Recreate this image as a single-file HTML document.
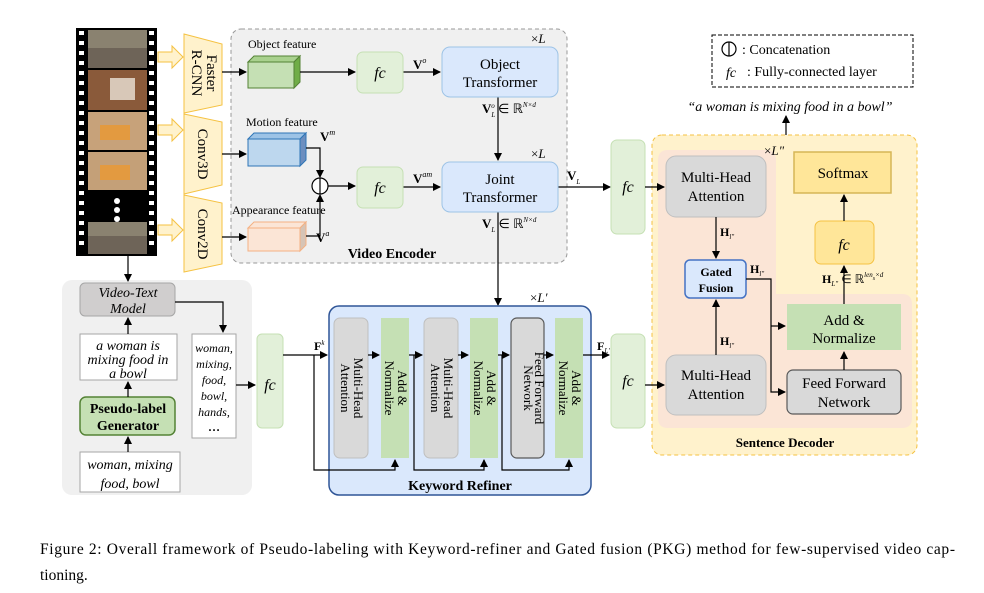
<!DOCTYPE html>
<html><head><meta charset="utf-8"><style>
html,body{margin:0;padding:0;background:#fff;}
svg{display:block;font-family:"Liberation Serif",serif;}
</style></head><body>
<svg width="984" height="593" viewBox="0 0 984 593" xmlns="http://www.w3.org/2000/svg">
<defs>
<marker id="a" markerWidth="8" markerHeight="8" refX="7" refY="4" orient="auto" markerUnits="userSpaceOnUse"><path d="M0,0 L8,4 L0,8 z" fill="#000"/></marker>
</defs>
<!-- film strip -->
<rect x="76" y="28" width="81" height="228" fill="#000"/>
<g fill="#fff">
<rect x="79" y="31" width="5" height="4"/><rect x="79" y="41" width="5" height="4"/><rect x="79" y="51" width="5" height="4"/><rect x="79" y="61" width="5" height="4"/><rect x="79" y="71" width="5" height="4"/><rect x="79" y="81" width="5" height="4"/><rect x="79" y="91" width="5" height="4"/><rect x="79" y="101" width="5" height="4"/><rect x="79" y="111" width="5" height="4"/><rect x="79" y="121" width="5" height="4"/><rect x="79" y="131" width="5" height="4"/><rect x="79" y="141" width="5" height="4"/><rect x="79" y="151" width="5" height="4"/><rect x="79" y="161" width="5" height="4"/><rect x="79" y="171" width="5" height="4"/><rect x="79" y="181" width="5" height="4"/><rect x="79" y="191" width="5" height="4"/><rect x="79" y="201" width="5" height="4"/><rect x="79" y="211" width="5" height="4"/><rect x="79" y="221" width="5" height="4"/><rect x="79" y="231" width="5" height="4"/><rect x="79" y="241" width="5" height="4"/>
<rect x="149" y="31" width="5" height="4"/><rect x="149" y="41" width="5" height="4"/><rect x="149" y="51" width="5" height="4"/><rect x="149" y="61" width="5" height="4"/><rect x="149" y="71" width="5" height="4"/><rect x="149" y="81" width="5" height="4"/><rect x="149" y="91" width="5" height="4"/><rect x="149" y="101" width="5" height="4"/><rect x="149" y="111" width="5" height="4"/><rect x="149" y="121" width="5" height="4"/><rect x="149" y="131" width="5" height="4"/><rect x="149" y="141" width="5" height="4"/><rect x="149" y="151" width="5" height="4"/><rect x="149" y="161" width="5" height="4"/><rect x="149" y="171" width="5" height="4"/><rect x="149" y="181" width="5" height="4"/><rect x="149" y="191" width="5" height="4"/><rect x="149" y="201" width="5" height="4"/><rect x="149" y="211" width="5" height="4"/><rect x="149" y="221" width="5" height="4"/><rect x="149" y="231" width="5" height="4"/><rect x="149" y="241" width="5" height="4"/>
</g>
<rect x="88" y="30" width="59" height="38" fill="#6e6458"/><rect x="88" y="30" width="59" height="18" fill="#8a8270"/>
<rect x="88" y="70" width="59" height="40" fill="#8a5a3a"/><rect x="110" y="78" width="25" height="22" fill="#d8c8b8"/>
<rect x="88" y="112" width="59" height="38" fill="#c7a27a"/><rect x="100" y="125" width="30" height="15" fill="#e39a40"/>
<rect x="88" y="152" width="59" height="38" fill="#c4a078"/><rect x="100" y="165" width="30" height="15" fill="#e39a40"/>
<circle cx="117" cy="201" r="3" fill="#fff"/><circle cx="117" cy="210" r="3" fill="#fff"/><circle cx="117" cy="219" r="3" fill="#fff"/>
<rect x="88" y="222" width="59" height="32" fill="#6e6458"/><rect x="88" y="222" width="59" height="14" fill="#8a8270"/>
<!-- yellow arrows -->
<g fill="#fff2cc" stroke="#f5c242" stroke-width="1">
<path d="M158,52 h14 v-6 l11,11 l-11,11 v-6 h-14 z"/>
<path d="M158,125 h14 v-6 l11,11 l-11,11 v-6 h-14 z"/>
<path d="M158,225 h14 v-6 l11,11 l-11,11 v-6 h-14 z"/>
<path d="M184,34 L222,44 L222,105 L184,113 z"/>
<path d="M184,114 L222,122 L222,185 L184,194 z"/>
<path d="M184,195 L222,203 L222,264 L184,272 z"/>
</g>
<g font-size="15" fill="#000">
<text transform="translate(207,73) rotate(90)" text-anchor="middle">Faster</text>
<text transform="translate(192,73) rotate(90)" text-anchor="middle">R-CNN</text>
<text transform="translate(198,154) rotate(90)" text-anchor="middle">Conv3D</text>
<text transform="translate(198,234) rotate(90)" text-anchor="middle">Conv2D</text>
</g>
<!-- video encoder -->
<rect x="231" y="29" width="336" height="234" rx="10" fill="#f0f0f0" stroke="#999" stroke-dasharray="4,3"/>
<g font-size="12"><text x="248" y="48">Object feature</text><text x="246" y="126">Motion feature</text><text x="232" y="214">Appearance feature</text></g>
<!-- cuboids -->
<path d="M248,62 h46 v26 h-46 z" fill="#c5e0b4" stroke="#548235"/><path d="M248,62 l6,-6 h46 l-6,6 z" fill="#a9d18e" stroke="#548235"/><path d="M294,62 l6,-6 v26 l-6,6 z" fill="#70ad47" stroke="#548235"/>
<path d="M248,139 h52 v27 h-52 z" fill="#bdd7ee" stroke="#2e75b6"/><path d="M248,139 l6,-6 h52 l-6,6 z" fill="#9dc3e6" stroke="#2e75b6"/><path d="M300,139 l6,-6 v27 l-6,6 z" fill="#6c8ebf" stroke="#2e75b6"/>
<path d="M248,228 h52 v23 h-52 z" fill="#fbe5d6" stroke="#f4b183"/><path d="M248,228 l6,-6 h52 l-6,6 z" fill="#fbe5d6" stroke="#f4b183"/><path d="M300,228 l6,-6 v23 l-6,6 z" fill="#d6c4b6" stroke="#f4b183"/>
<g stroke="#000" stroke-width="1.2" fill="none">
<path d="M222,72 H246" marker-end="url(#a)"/>
<path d="M222,154 H246" marker-end="url(#a)"/>
<path d="M222,237 H246" marker-end="url(#a)"/>
<path d="M300,72 H355" marker-end="url(#a)"/>
<path d="M403,72 H440" marker-end="url(#a)"/>
<path d="M306,148 H320 V177" marker-end="url(#a)"/>
<path d="M306,236 H320 V195" marker-end="url(#a)"/>
<path d="M328,186 H355" marker-end="url(#a)"/>
<path d="M403,187 H440" marker-end="url(#a)"/>
<path d="M498,97 V160" marker-end="url(#a)"/>
<path d="M498,212 V305" marker-end="url(#a)"/>
<path d="M558,187 H610" marker-end="url(#a)"/>
<circle cx="320" cy="186" r="8" fill="#fff"/><path d="M320,178 V194"/>
</g>
<rect x="357" y="52" width="46" height="41" rx="6" fill="#e2f0d9" stroke="#c5e0b4"/>
<rect x="357" y="167" width="46" height="41" rx="6" fill="#e2f0d9" stroke="#c5e0b4"/>
<g font-size="16" font-style="italic" text-anchor="middle"><text x="380" y="78">fc</text><text x="380" y="193">fc</text></g>
<rect x="442" y="47" width="116" height="50" rx="8" fill="#dae8fc" stroke="#9dc3e6"/>
<rect x="442" y="162" width="116" height="50" rx="8" fill="#dae8fc" stroke="#9dc3e6"/>
<g font-size="15" text-anchor="middle"><text x="500" y="69">Object</text><text x="500" y="87">Transformer</text><text x="500" y="184">Joint</text><text x="500" y="202">Transformer</text></g>
<g font-size="13">
<text x="531" y="43">×<tspan font-style="italic">L</tspan></text><text x="531" y="158">×<tspan font-style="italic">L</tspan></text>
<text x="413" y="69" font-weight="bold">V<tspan font-size="8" dy="-6" font-style="italic" font-weight="normal">o</tspan></text>
<text x="413" y="183" font-weight="bold">V<tspan font-size="8" dy="-6" font-style="italic" font-weight="normal">am</tspan></text>
<text x="320" y="141" font-weight="bold">V<tspan font-size="8" dy="-6" font-style="italic" font-weight="normal">m</tspan></text>
<text x="316" y="242" font-weight="bold">V<tspan font-size="8" dy="-6" font-style="italic" font-weight="normal">a</tspan></text>
<text x="482" y="113" font-weight="bold">V<tspan font-size="7" dy="4" font-style="italic" font-weight="normal">L</tspan><tspan font-size="7" dy="-9" dx="-4" font-style="italic" font-weight="normal">o</tspan><tspan dy="5" font-weight="normal"> ∈ ℝ</tspan><tspan font-size="7" dy="-6" font-style="italic" font-weight="normal">N×d</tspan></text>
<text x="482" y="228" font-weight="bold">V<tspan font-size="7" dy="4" font-style="italic" font-weight="normal">L</tspan><tspan dy="-4" font-weight="normal"> ∈ ℝ</tspan><tspan font-size="7" dy="-6" font-style="italic" font-weight="normal">N×d</tspan></text>
<text x="567" y="180" font-weight="bold">V<tspan font-size="7" dy="4" font-style="italic" font-weight="normal">L</tspan></text>
</g>
<text x="392" y="258" font-size="14" font-weight="bold" text-anchor="middle">Video Encoder</text>
<!-- left fc columns -->
<rect x="611" y="140" width="34" height="94" rx="6" fill="#e2f0d9" stroke="#c5e0b4"/>
<rect x="611" y="334" width="34" height="94" rx="6" fill="#e2f0d9" stroke="#c5e0b4"/>
<g font-size="16" font-style="italic" text-anchor="middle"><text x="628" y="192">fc</text><text x="628" y="386">fc</text></g>
<!-- sentence decoder -->
<rect x="652" y="135" width="265" height="320" rx="10" fill="#fff2cc" stroke="#f5c242" stroke-dasharray="4,3"/>
<path d="M666,150 H766 Q776,150 776,160 V294 H902 Q912,294 912,304 V418 Q912,428 902,428 H668 Q658,428 658,418 V160 Q658,150 668,150 z" fill="#fbe5d6"/>
<rect x="666" y="156" width="100" height="61" rx="10" fill="#d9d9d9" stroke="#bfbfbf"/>
<rect x="666" y="355" width="100" height="60" rx="10" fill="#d9d9d9" stroke="#bfbfbf"/>
<rect x="685" y="260" width="61" height="38" rx="5" fill="#dae8fc" stroke="#4472c4" stroke-width="1.5"/>
<rect x="794" y="152" width="97" height="41" fill="#ffe699" stroke="#d6b656" stroke-width="1.5"/>
<rect x="815" y="221" width="59" height="43" rx="6" fill="#ffe699" stroke="#f5c242"/>
<rect x="787" y="304" width="114" height="46" fill="#c5e0b4"/>
<rect x="787" y="370" width="114" height="44" rx="6" fill="#d9d9d9" stroke="#595959" stroke-width="1.2"/>
<g stroke="#000" stroke-width="1.2" fill="none">
<path d="M645,187 H664" marker-end="url(#a)"/>
<path d="M645,385 H664" marker-end="url(#a)"/>
<path d="M716,217 V258" marker-end="url(#a)"/>
<path d="M716,355 V300" marker-end="url(#a)"/>
<path d="M746,279 H771 V392 H785" marker-end="url(#a)"/>
<path d="M771,326 H785" marker-end="url(#a)"/>
<path d="M844,370 V352" marker-end="url(#a)"/>
<path d="M844,304 V266" marker-end="url(#a)"/>
<path d="M844,221 V195" marker-end="url(#a)"/>
<path d="M786,135 V116" marker-end="url(#a)"/>
</g>
<g font-size="15" text-anchor="middle">
<text x="716" y="182">Multi-Head</text><text x="716" y="201">Attention</text>
<text x="716" y="380">Multi-Head</text><text x="716" y="399">Attention</text>
<text x="843" y="178">Softmax</text>
<text x="844" y="319" dy="6">Add &amp;</text><text x="844" y="343">Normalize</text>
<text x="844" y="388">Feed Forward</text><text x="844" y="407">Network</text>
<text x="844" y="250" font-size="16" font-style="italic">fc</text>
</g>
<g font-size="12" font-weight="bold" text-anchor="middle"><text x="716" y="276">Gated</text><text x="716" y="292">Fusion</text></g>
<g font-size="12" font-weight="bold">
<text x="720" y="236">H<tspan font-size="7" dy="3" font-style="italic" font-weight="normal">l"</tspan></text>
<text x="720" y="345">H<tspan font-size="7" dy="3" font-style="italic" font-weight="normal">l"</tspan></text>
<text x="750" y="273">H<tspan font-size="7" dy="3" font-style="italic" font-weight="normal">l"</tspan></text>
<text x="822" y="283">H<tspan font-size="7" dy="3" font-style="italic" font-weight="normal">L"</tspan><tspan font-weight="normal" font-size="12" dy="-3"> ∈ ℝ</tspan><tspan font-size="7" dy="-6" font-style="italic" font-weight="normal">len</tspan><tspan font-size="6" dy="3" font-style="italic" font-weight="normal">s</tspan><tspan font-size="7" dy="-3" font-style="italic" font-weight="normal">×d</tspan></text>
<text x="597" y="350">F<tspan font-size="7" dy="3" font-style="italic" font-weight="normal">L'</tspan></text>
<text x="314" y="350">F<tspan font-size="7" dy="-5" font-style="italic" font-weight="normal">k</tspan></text>
</g>
<text x="764" y="155" font-size="13">×<tspan font-style="italic">L"</tspan></text>
<text x="785" y="447" font-size="13" font-weight="bold" text-anchor="middle">Sentence Decoder</text>
<text x="790" y="111" font-size="14" font-style="italic" text-anchor="middle">“a woman is mixing food in a bowl”</text>
<!-- legend -->
<rect x="712" y="35" width="201" height="52" fill="#fff" stroke="#000" stroke-dasharray="4,2"/>
<circle cx="729" cy="49" r="7" fill="none" stroke="#000" stroke-width="1.2"/><path d="M729,42 V56" stroke="#000" stroke-width="1.2"/>
<text x="742" y="54" font-size="14">: Concatenation</text>
<text x="726" y="77" font-size="14" font-style="italic">fc</text>
<text x="747" y="76" font-size="14">: Fully-connected layer</text>
<!-- lower left panel -->
<rect x="62" y="280" width="190" height="215" rx="10" fill="#f0f0f0"/>
<rect x="80" y="283" width="95" height="33" rx="5" fill="#d0cece" stroke="#a6a6a6"/>
<rect x="80" y="334" width="97" height="46" fill="#fff" stroke="#a6a6a6"/>
<rect x="80" y="397" width="95" height="38" rx="6" fill="#c5e0b4" stroke="#548235" stroke-width="1.5"/>
<rect x="80" y="452" width="100" height="40" fill="#fff" stroke="#a6a6a6"/>
<rect x="192" y="334" width="44" height="104" fill="#fff" stroke="#a6a6a6"/>
<g stroke="#000" stroke-width="1.2" fill="none">
<path d="M128,256 V281" marker-end="url(#a)"/>
<path d="M128,334 V318" marker-end="url(#a)"/>
<path d="M128,397 V382" marker-end="url(#a)"/>
<path d="M128,452 V437" marker-end="url(#a)"/>
<path d="M175,302 H223 V332" marker-end="url(#a)"/>
<path d="M236,385 H255" marker-end="url(#a)"/>
</g>
<g font-size="14" font-style="italic" text-anchor="middle">
<text x="128" y="297">Video-Text</text><text x="128" y="313">Model</text>
<text x="128" y="350">a woman is</text><text x="128" y="364">mixing food in</text><text x="128" y="378">a bowl</text>
<text x="130" y="469">woman, mixing</text><text x="130" y="488">food, bowl</text>
</g>
<g font-size="12" font-style="italic" text-anchor="middle">
<text x="214" y="352">woman,</text><text x="214" y="368">mixing,</text><text x="214" y="384">food,</text><text x="214" y="400">bowl,</text><text x="214" y="416">hands,</text><text x="214" y="431" font-style="normal" font-weight="bold">…</text>
</g>
<g font-size="14" font-weight="bold" text-anchor="middle"><text x="128" y="413">Pseudo-label</text><text x="128" y="430">Generator</text></g>
<rect x="257" y="334" width="26" height="94" rx="5" fill="#e2f0d9" stroke="#c5e0b4"/>
<text x="270" y="390" font-size="16" font-style="italic" text-anchor="middle">fc</text>
<!-- keyword refiner -->
<rect x="329" y="306" width="262" height="189" rx="10" fill="#dae8fc" stroke="#2f5597" stroke-width="1.5"/>
<rect x="334" y="318" width="34" height="140" rx="6" fill="#d9d9d9" stroke="#bfbfbf"/>
<rect x="381" y="318" width="28" height="140" fill="#c5e0b4"/>
<rect x="424" y="318" width="34" height="140" rx="6" fill="#d9d9d9" stroke="#bfbfbf"/>
<rect x="470" y="318" width="28" height="140" fill="#c5e0b4"/>
<rect x="511" y="318" width="33" height="140" rx="6" fill="#d9d9d9" stroke="#595959" stroke-width="1.2"/>
<rect x="555" y="318" width="28" height="140" fill="#c5e0b4"/>
<g stroke="#000" stroke-width="1.2" fill="none">
<path d="M283,355 H327" marker-end="url(#a)"/>
<path d="M314,355 V470 H395 V460" marker-end="url(#a)"/>
<path d="M368,355 H379" marker-end="url(#a)"/>
<path d="M409,355 H422" marker-end="url(#a)"/>
<path d="M414,355 V470 H484 V460" marker-end="url(#a)"/>
<path d="M458,355 H468" marker-end="url(#a)"/>
<path d="M498,355 H509" marker-end="url(#a)"/>
<path d="M502,355 V470 H569 V460" marker-end="url(#a)"/>
<path d="M544,355 H553" marker-end="url(#a)"/>
<path d="M583,355 H609" marker-end="url(#a)"/>
</g>
<g font-size="13" text-anchor="middle">
<text transform="translate(351,388) rotate(90)"><tspan x="0" dy="-3">Multi-Head</tspan><tspan x="0" dy="13">Attention</tspan></text>
<text transform="translate(395,388) rotate(90)"><tspan x="0" dy="-3">Add &amp;</tspan><tspan x="0" dy="13">Normalize</tspan></text>
<text transform="translate(441,388) rotate(90)"><tspan x="0" dy="-3">Multi-Head</tspan><tspan x="0" dy="13">Attention</tspan></text>
<text transform="translate(484,388) rotate(90)"><tspan x="0" dy="-3">Add &amp;</tspan><tspan x="0" dy="13">Normalize</tspan></text>
<text transform="translate(527,388) rotate(90)"><tspan x="0" dy="-8">Feed Forward</tspan><tspan x="0" dy="11">Network</tspan></text>
<text transform="translate(569,388) rotate(90)"><tspan x="0" dy="-3">Add &amp;</tspan><tspan x="0" dy="13">Normalize</tspan></text>
</g>
<text x="530" y="302" font-size="13">×<tspan font-style="italic">L′</tspan></text>
<text x="460" y="490" font-size="14" font-weight="bold" text-anchor="middle">Keyword Refiner</text>
<!-- caption -->
<text x="40" y="554" font-size="15.5" textLength="915" lengthAdjust="spacing">Figure 2: Overall framework of Pseudo-labeling with Keyword-refiner and Gated fusion (PKG) method for few-supervised video cap-</text>
<text x="40" y="580" font-size="15.5">tioning.</text>
</svg>
</body></html>
